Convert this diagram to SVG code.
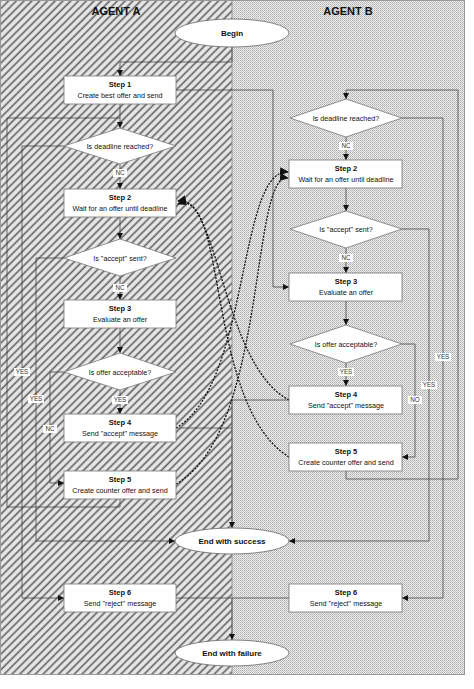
<svg xmlns="http://www.w3.org/2000/svg" width="474" height="689" viewBox="0 0 474 689">
<defs>
<pattern id="hatch" width="5.5" height="5.5" patternUnits="userSpaceOnUse" patternTransform="rotate(45)">
<rect width="5.5" height="5.5" fill="#e6e6e6"/>
<line x1="1.2" y1="0" x2="1.2" y2="5.5" stroke="#606060" stroke-width="1.6"/>
</pattern>
<pattern id="dots" width="2" height="2" patternUnits="userSpaceOnUse">
<rect width="2" height="2" fill="#eeeeee"/>
<rect width="1" height="1" fill="#adadad"/>
<rect x="1" y="1" width="1" height="1" fill="#c2c2c2"/>
</pattern>
<marker id="ar" markerUnits="userSpaceOnUse" markerWidth="6" markerHeight="6" refX="6" refY="3" orient="auto">
<path d="M0,0 L6,3 L0,6 z" fill="#111"/>
</marker>
<marker id="ard" markerUnits="userSpaceOnUse" markerWidth="9" markerHeight="8" refX="8" refY="4" orient="auto">
<path d="M0,0 L9,4 L0,8 z" fill="#111"/>
</marker>
</defs>
<style>
.box{fill:#fff;stroke:#777;stroke-width:0.8}
.el{fill:#fff;stroke:#666;stroke-width:0.8}
.c{fill:none;stroke:#444;stroke-width:0.8}
.ca{fill:none;stroke:#444;stroke-width:0.8;marker-end:url(#ar)}
.d{fill:none;stroke:#111;stroke-width:1.3;stroke-dasharray:2,1.4;marker-end:url(#ard)}
text{font-family:"Liberation Sans",Arial,sans-serif;text-anchor:middle;fill:#111}
.t{font-size:11px;font-weight:bold}
.s{font-size:7.5px;font-weight:bold}
.b{font-size:7.2px}
.e{font-size:8px;font-weight:bold}
.lb{fill:#fff}
.l{font-size:6.3px;fill:#333}
</style>
<g id="background">
<rect x="0" y="0" width="232" height="674" fill="url(#hatch)"/>
<rect x="232" y="0" width="233" height="674" fill="url(#dots)"/>
<rect x="0.5" y="0.5" width="464" height="674" fill="none" stroke="#999" stroke-width="1"/>
<line x1="232" y1="0" x2="232" y2="674" stroke="#888" stroke-width="0.8"/>
<text class="t" x="116" y="15">AGENT A</text>
<text class="t" x="348" y="15">AGENT B</text>
</g>
<g id="connectors">
<path class="ca" d="M232,47 V62 H120 V76"/>
<path class="ca" d="M120,104 V128"/>
<path class="ca" d="M120,164 V189"/>
<path class="ca" d="M120,217 V239"/>
<path class="ca" d="M120,276 V300"/>
<path class="ca" d="M120,328 V353"/>
<path class="ca" d="M120,390 V414"/>
<path class="ca" d="M64,146 H22 V598 H64"/>
<path class="ca" d="M64,258 H36 V541 H175"/>
<path class="ca" d="M64,372 H50 V483 H64"/>
<path class="c" d="M120,499 V507 H7 V118 H120"/>
<path class="c" d="M176,428 H232"/>
<path class="ca" d="M289,400 H232 V528"/>
<path class="ca" d="M176,90 H273 V287 H289"/>
<path class="c" d="M176,598 H289"/>
<path class="ca" d="M232,598 V640"/>
<path class="ca" d="M346,471 V479 H458 V90 H346 V99"/>
<path class="ca" d="M346,137 V160"/>
<path class="ca" d="M346,188 V211"/>
<path class="ca" d="M346,248 V273"/>
<path class="ca" d="M346,301 V325"/>
<path class="ca" d="M346,363 V386"/>
<path class="ca" d="M402,118 H443 V598 H402"/>
<path class="ca" d="M402,229 H429 V541 H289"/>
<path class="ca" d="M402,344 H415 V457 H402"/>
<path class="d" d="M289,400 C222,365 218,192 178,201"/>
<path class="d" d="M289,457 C205,405 228,186 178,204"/>
<path class="d" d="M176,428 C250,385 238,168 288,172"/>
<path class="d" d="M176,484 C268,432 250,172 288,178"/>
<rect class="lb" x="113" y="169" width="14" height="8"/><text class="l" x="120" y="175.3">NC</text>
<rect class="lb" x="113" y="284" width="14" height="8"/><text class="l" x="120" y="290.3">NC</text>
<rect class="lb" x="112" y="396" width="16" height="8"/><text class="l" x="120" y="402.3">YES</text>
<rect class="lb" x="14" y="368" width="16" height="8"/><text class="l" x="22" y="374.3">YES</text>
<rect class="lb" x="28" y="395" width="16" height="8"/><text class="l" x="36" y="401.3">YES</text>
<rect class="lb" x="43" y="425" width="14" height="8"/><text class="l" x="50" y="431.3">NC</text>
<rect class="lb" x="339" y="142" width="14" height="8"/><text class="l" x="346" y="148.3">NC</text>
<rect class="lb" x="339" y="254" width="14" height="8"/><text class="l" x="346" y="260.3">NC</text>
<rect class="lb" x="338" y="368" width="16" height="8"/><text class="l" x="346" y="374.3">YES</text>
<rect class="lb" x="408" y="396" width="14" height="8"/><text class="l" x="415" y="402.3">NO</text>
<rect class="lb" x="421" y="381" width="16" height="8"/><text class="l" x="429" y="387.3">YES</text>
<rect class="lb" x="435" y="353" width="16" height="8"/><text class="l" x="443" y="359.3">YES</text>
</g>
<g id="begin"><ellipse class="el" cx="232" cy="33" rx="57" ry="14"/><text class="e" x="232" y="36">Begin</text></g>
<g id="a-step1"><rect class="box" x="64" y="76" width="112" height="28"/><text class="s" x="120" y="87">Step 1</text><text class="b" x="120" y="97.5">Create best offer and send</text></g>
<g id="a-deadline"><polygon class="box" points="64,146 120,128 176,146 120,164"/><text class="b" x="120" y="148.5">Is deadline reached?</text></g>
<g id="a-step2"><rect class="box" x="64" y="189" width="112" height="28"/><text class="s" x="120" y="200">Step 2</text><text class="b" x="120" y="210.5">Wait for an offer until deadline</text></g>
<g id="a-accept"><polygon class="box" points="64,258 120,239 176,258 120,276"/><text class="b" x="120" y="260.5">Is "accept" sent?</text></g>
<g id="a-step3"><rect class="box" x="64" y="300" width="112" height="28"/><text class="s" x="120" y="311">Step 3</text><text class="b" x="120" y="321.5">Evaluate an offer</text></g>
<g id="a-acceptable"><polygon class="box" points="64,372 120,353 176,372 120,390"/><text class="b" x="120" y="374.5">Is offer acceptable?</text></g>
<g id="a-step4"><rect class="box" x="64" y="414" width="112" height="28"/><text class="s" x="120" y="425">Step 4</text><text class="b" x="120" y="435.5">Send "accept" message</text></g>
<g id="a-step5"><rect class="box" x="64" y="471" width="112" height="28"/><text class="s" x="120" y="482">Step 5</text><text class="b" x="120" y="492.5">Create counter offer and send</text></g>
<g id="a-step6"><rect class="box" x="64" y="584" width="112" height="28"/><text class="s" x="120" y="595">Step 6</text><text class="b" x="120" y="605.5">Send "reject" message</text></g>
<g id="b-deadline"><polygon class="box" points="290,118 346,99 402,118 346,137"/><text class="b" x="346" y="120.5">Is deadline reached?</text></g>
<g id="b-step2"><rect class="box" x="289" y="160" width="113" height="28"/><text class="s" x="346" y="171">Step 2</text><text class="b" x="346" y="181.5">Wait for an offer until deadline</text></g>
<g id="b-accept"><polygon class="box" points="290,229 346,211 402,229 346,248"/><text class="b" x="346" y="231.5">Is "accept" sent?</text></g>
<g id="b-step3"><rect class="box" x="289" y="273" width="113" height="28"/><text class="s" x="346" y="284">Step 3</text><text class="b" x="346" y="294.5">Evaluate an offer</text></g>
<g id="b-acceptable"><polygon class="box" points="290,344 346,325 402,344 346,363"/><text class="b" x="346" y="346.5">Is offer acceptable?</text></g>
<g id="b-step4"><rect class="box" x="289" y="386" width="113" height="28"/><text class="s" x="346" y="397">Step 4</text><text class="b" x="346" y="407.5">Send "accept" message</text></g>
<g id="b-step5"><rect class="box" x="289" y="443" width="113" height="28"/><text class="s" x="346" y="454">Step 5</text><text class="b" x="346" y="464.5">Create counter offer and send</text></g>
<g id="b-step6"><rect class="box" x="289" y="584" width="113" height="28"/><text class="s" x="346" y="595">Step 6</text><text class="b" x="346" y="605.5">Send "reject" message</text></g>
<g id="end-success"><ellipse class="el" cx="232" cy="541" rx="57" ry="13"/><text class="e" x="232" y="544">End with success</text></g>
<g id="end-failure"><ellipse class="el" cx="232" cy="653" rx="57" ry="13"/><text class="e" x="232" y="656">End with failure</text></g>
</svg>
